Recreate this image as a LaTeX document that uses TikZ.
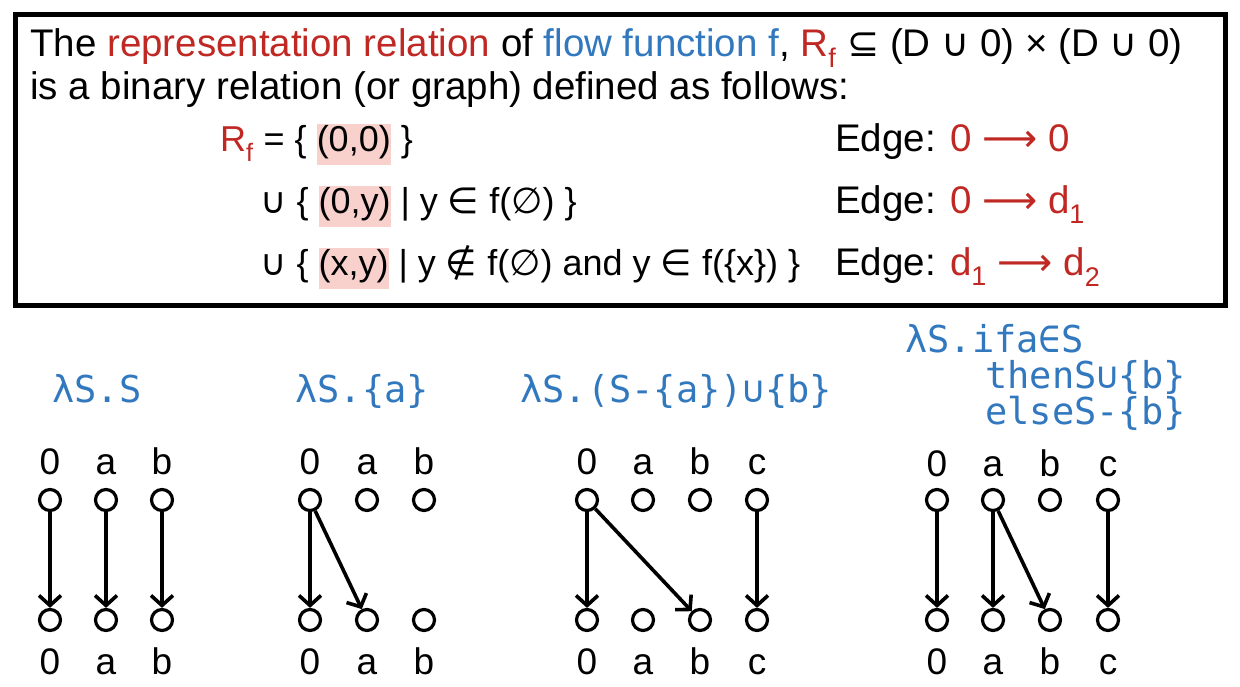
\documentclass[tikz,border=0pt]{standalone}
\usepackage{fontspec}
\setmainfont{Liberation Sans}
\newfontfamily\monof{DejaVu Sans Mono}
\newfontfamily\symf{DejaVu Sans}
\usetikzlibrary{arrows.meta}
\definecolor{rred}{RGB}{192,40,35}
\definecolor{bblue}{RGB}{50,120,190}
\definecolor{hl}{RGB}{248,208,204}
\newcommand{\hlbox}[1]{{\setlength\fboxsep{0pt}\colorbox{hl}{\rule[-13pt]{0pt}{41pt}#1}}}
\begin{document}
\begin{tikzpicture}[x=1pt,y=-1pt,
  txt/.style={anchor=base west,inner sep=0pt,font=\fontsize{38.5}{42}\selectfont},
  rowt/.style={anchor=base west,inner sep=0pt,font=\fontsize{36}{40}\selectfont},
  lam/.style={anchor=base west,inner sep=0pt,text=bblue,font=\monof\fontsize{37}{40}\selectfont},
  lbl/.style={anchor=base,inner sep=0pt,font=\fontsize{37}{40}\selectfont},
  pt/.style={circle,draw,line width=3.2pt,minimum size=21pt,inner sep=0pt},
  arr/.style={line width=3.6pt,-{Straight Barb[length=10pt,width=22pt,line width=3.6pt]}}]
\useasboundingbox (0,0) rectangle (1240,687);
\fill[white] (0,0) rectangle (1240,687);
\draw[line width=5pt] (15,15) rectangle (1225,305);
\node[txt,text depth=0pt] (l1) at (30,57) {The \textcolor{rred}{representation relation} of \textcolor{bblue}{flow function f}, \textcolor{rred}{R\smash{\textsubscript{f}}} {\symf ⊆} (D {\symf ∪} 0) × (D {\symf ∪} 0)};
\node[txt] (l2) at (30,100) {is a binary relation (or graph) defined as follows:};
\node[rowt] (r1) at (220,152) {\textcolor{rred}{R\textsubscript{f}} = \{ \hlbox{(0,0)} \}};
\node[rowt] (r2) at (260,214) {{\symf ∪} \{ \hlbox{(0,y)} | y {\symf ∈} f({\symf ∅}) \}};
\node[rowt] (r3) at (260,276) {{\symf ∪} \{ \hlbox{(x,y)} | y {\symf ∉} f({\symf ∅}) and y {\symf ∈} f(\{x\}) \}};
\node[txt] (e1) at (835,152) {Edge: \textcolor{rred}{0 {\symf ⟶} 0}};
\node[txt] (e2) at (835,214) {Edge: \textcolor{rred}{0 {\symf ⟶} d\textsubscript{1}}};
\node[txt] (e3) at (835,276) {Edge: \textcolor{rred}{d\textsubscript{1} {\symf ⟶} d\textsubscript{2}}};
\node[lam] (f1) at (52,402) {λS.S};
\node[lam] (f2) at (295,402) {λS.\{a\}};
\node[lam] (f3) at (520,402) {λS.(S-\{a\})∪\{b\}};
\node[lam] (f4a) at (905,352) {λS.ifa∈S};
\node[lam] (f4b) at (985,388) {thenS∪\{b\}};
\node[lam] (f4c) at (985,424) {elseS-\{b\}};
\foreach \g/\xs in {1/{50,106,162}, 2/{310,367,424}, 3/{587,643,700,757}, 4/{937,993,1050,1108}}{
  \foreach \x [count=\i] in \xs {
    \node[pt] (t\g\i) at (\x,500) {};
    \node[pt] (b\g\i) at (\x,620) {};
  }
}
\foreach \x/\n [count=\i] in {50/0,106/a,162/b,310/0,367/a,424/b,587/0,643/a,700/b,757/c,937/0,993/a,1050/b,1108/c}{
  \node[lbl] (tl\i) at (\x,\ifnum\i>10 476\else 474\fi) {\n};
  \node[lbl] (bl\i) at (\x,674) {\n};
}
\draw[arr] (t11) -- (b11); \draw[arr] (t12) -- (b12); \draw[arr] (t13) -- (b13);
\draw[arr] (t21) -- (b21); \draw[arr] (t21) -- (b22);
\draw[arr] (t31) -- (b31); \draw[arr] (t31) -- (b33); \draw[arr] (t34) -- (b34);
\draw[arr] (t41) -- (b41); \draw[arr] (t42) -- (b42); \draw[arr] (t42) -- (b43); \draw[arr] (t44) -- (b44);
\end{tikzpicture}
\end{document}
